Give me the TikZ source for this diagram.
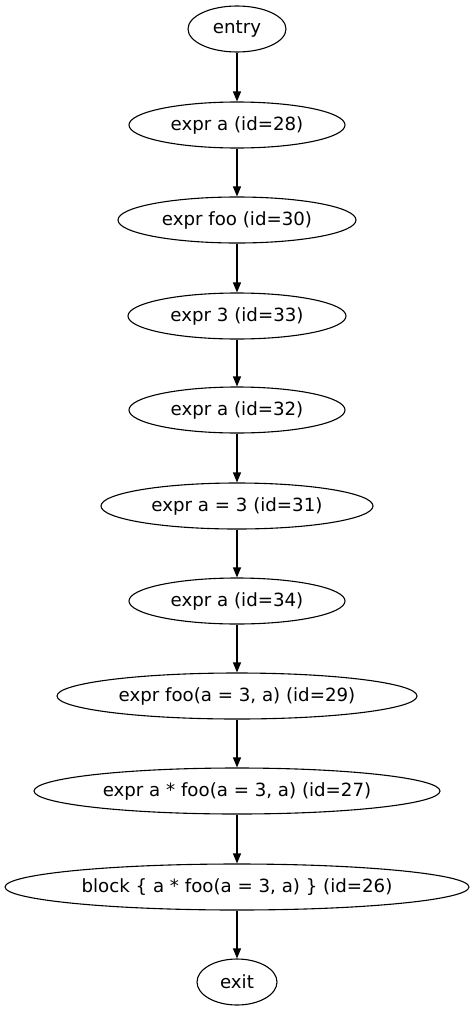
\documentclass[tikz,border=0pt]{standalone}
\usepackage{fontspec}
\setmainfont{DejaVu Sans}
\usetikzlibrary{shapes.geometric,arrows.meta}
\begin{document}
\begin{tikzpicture}[x=1pt,y=1pt,
  nd/.style={draw,ellipse,inner sep=0pt,minimum height=46pt,font=\fontsize{18.2}{20}\selectfont,line width=1.1pt},
  ar/.style={-{Triangle[length=10pt,width=8pt]},line width=1.1pt}]
\useasboundingbox (0,0) rectangle (474,-1012);
\node[nd,minimum width=98pt] (entry) at (237,-29) {entry};
\node[nd,minimum width=216pt] (n28) at (237,-125) {expr a (id=28)};
\node[nd,minimum width=238pt] (n30) at (237,-220) {expr foo (id=30)};
\node[nd,minimum width=218pt] (n33) at (237,-316) {expr 3 (id=33)};
\node[nd,minimum width=216pt] (n32) at (237,-410) {expr a (id=32)};
\node[nd,minimum width=272pt] (n31) at (237,-506) {expr a = 3 (id=31)};
\node[nd,minimum width=216pt] (n34) at (237,-601) {expr a (id=34)};
\node[nd,minimum width=360pt] (n29) at (237,-696) {expr foo(a = 3, a) (id=29)};
\node[nd,minimum width=406pt] (n27) at (237,-791) {expr a * foo(a = 3, a) (id=27)};
\node[nd,minimum width=464pt] (n26) at (237,-887) {block \{ a * foo(a = 3, a) \} (id=26)};
\node[nd,minimum width=80pt] (exit) at (237,-982) {exit};
\draw[ar] (entry) -- (n28);
\draw[ar] (n28) -- (n30);
\draw[ar] (n30) -- (n33);
\draw[ar] (n33) -- (n32);
\draw[ar] (n32) -- (n31);
\draw[ar] (n31) -- (n34);
\draw[ar] (n34) -- (n29);
\draw[ar] (n29) -- (n27);
\draw[ar] (n27) -- (n26);
\draw[ar] (n26) -- (exit);
\end{tikzpicture}
\end{document}
